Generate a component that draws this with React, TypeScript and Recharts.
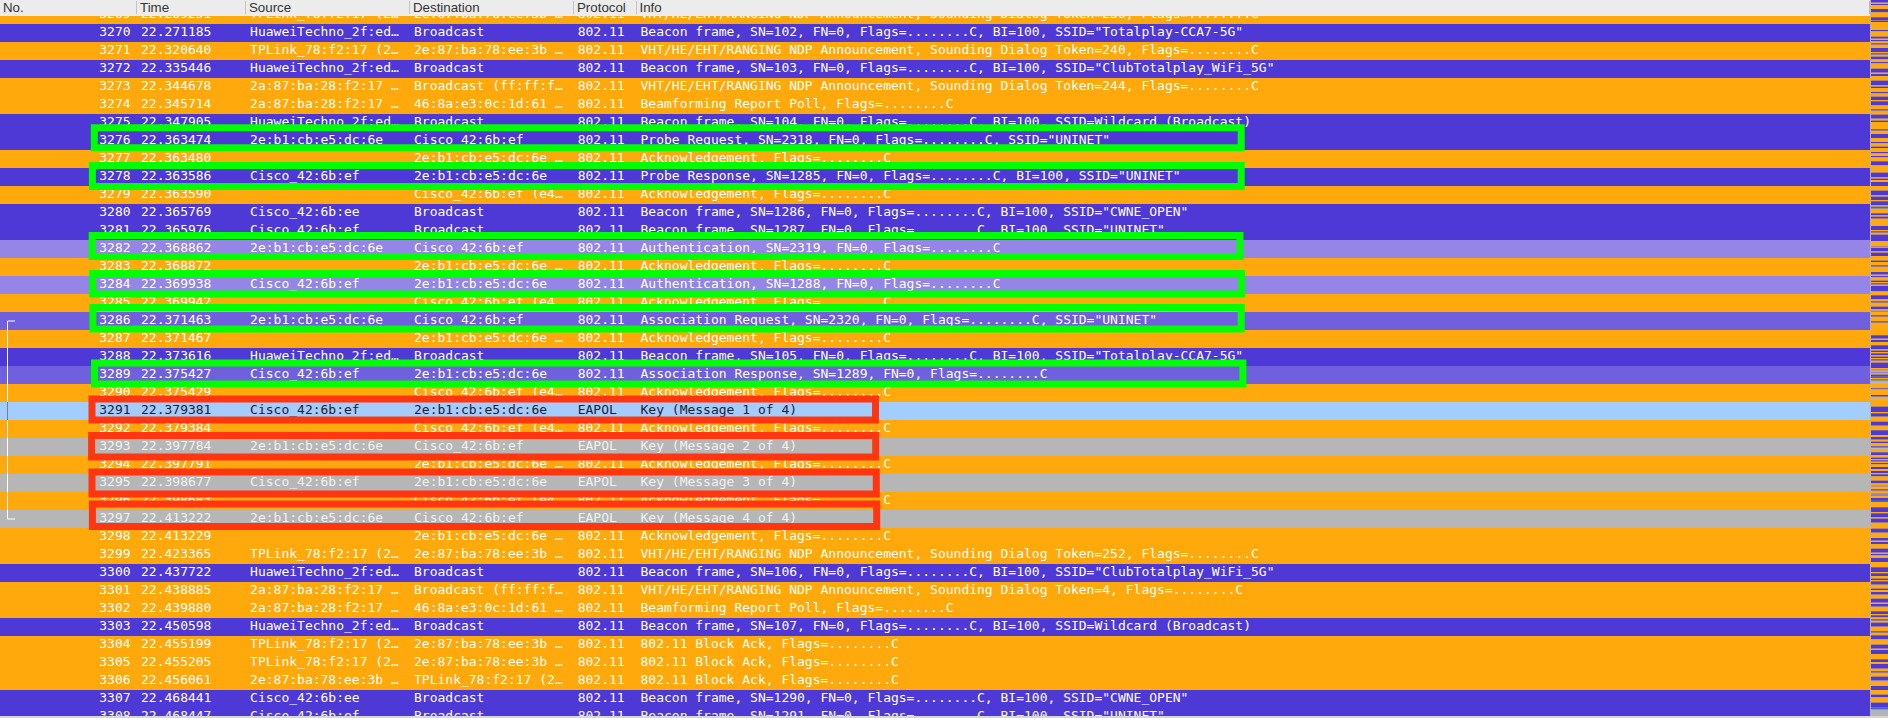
import { BarChart, Bar, XAxis, YAxis, ReferenceArea } from "recharts"

const WIDTH = 1888
const HEIGHT = 718
const LIST_WIDTH = 1870

const FONT_MONO = '"DejaVu Sans Mono", monospace'
const FONT_UI = '"Liberation Sans", Arial, sans-serif'

const HUAWEI = "HuaweiTechno_2f:ed…"
const TPLINK = "TPLink_78:f2:17 (2…"
const TPLINK_DST = "2e:87:ba:78:ee:3b …"
const NDP_SRC = "2a:87:ba:28:f2:17 …"
const NDP_BCAST = "Broadcast (ff:ff:f…"
const NDP_DST = "46:8a:e3:0c:1d:61 …"
const CLIENT = "2e:b1:cb:e5:dc:6e"
const CLIENT_TRUNC = "2e:b1:cb:e5:dc:6e …"
const AP = "Cisco_42:6b:ef"
const AP_TRUNC = "Cisco_42:6b:ef (e4…"
const AP_OPEN = "Cisco_42:6b:ee"
const ACK = "Acknowledgement, Flags=........C"
const BLOCK_ACK = "802.11 Block Ack, Flags=........C"
const POLL = "Beamforming Report Poll, Flags=........C"
const FLAGS = "Flags=........C"

const columnLabels = ["No.", "Time", "Source", "Destination", "Protocol", "Info"]

const packetNumbers = [
  3269, 3270, 3271, 3272, 3273, 3274, 3275, 3276, 3277, 3278, 3279, 3280, 3281, 3282,
  3283, 3284, 3285, 3286, 3287, 3288, 3289, 3290, 3291, 3292, 3293, 3294, 3295, 3296,
  3297, 3298, 3299, 3300, 3301, 3302, 3303, 3304, 3305, 3306, 3307, 3308,
]

const times = [
  "22.269251", "22.271185", "22.320640", "22.335446", "22.344678", "22.345714", "22.347905",
  "22.363474", "22.363480", "22.363586", "22.363590", "22.365769", "22.365976", "22.368862",
  "22.368872", "22.369938", "22.369942", "22.371463", "22.371467", "22.373616", "22.375427",
  "22.375429", "22.379381", "22.379384", "22.397784", "22.397791", "22.398677", "22.398683",
  "22.413222", "22.413229", "22.423365", "22.437722", "22.438885", "22.439880", "22.450598",
  "22.455199", "22.455205", "22.456061", "22.468441", "22.468447",
]

const sources = [
  TPLINK, HUAWEI, TPLINK, HUAWEI, NDP_SRC, NDP_SRC, HUAWEI,
  CLIENT, "", AP, "", AP_OPEN, AP, CLIENT,
  "", AP, "", CLIENT, "", HUAWEI, AP,
  "", AP, "", CLIENT, "", AP, "",
  CLIENT, "", TPLINK, HUAWEI, NDP_SRC, NDP_SRC, HUAWEI,
  TPLINK, TPLINK, TPLINK_DST, AP_OPEN, AP,
]

const destinations = [
  TPLINK_DST, "Broadcast", TPLINK_DST, "Broadcast", NDP_BCAST, NDP_DST, "Broadcast",
  AP, CLIENT_TRUNC, CLIENT, AP_TRUNC, "Broadcast", "Broadcast", AP,
  CLIENT_TRUNC, CLIENT, AP_TRUNC, AP, CLIENT_TRUNC, "Broadcast", CLIENT,
  AP_TRUNC, CLIENT, AP_TRUNC, AP, CLIENT_TRUNC, CLIENT, AP_TRUNC,
  AP, CLIENT_TRUNC, TPLINK_DST, "Broadcast", NDP_BCAST, NDP_DST, "Broadcast",
  TPLINK_DST, TPLINK_DST, TPLINK, "Broadcast", "Broadcast",
]

const protocols = packetNumbers.map((no) =>
  [3291, 3293, 3295, 3297].includes(no) ? "EAPOL" : "802.11"
)

const infos = [
  `VHT/HE/EHT/RANGING NDP Announcement, Sounding Dialog Token=236, ${FLAGS}`,
  `Beacon frame, SN=102, FN=0, ${FLAGS}, BI=100, SSID="Totalplay-CCA7-5G"`,
  `VHT/HE/EHT/RANGING NDP Announcement, Sounding Dialog Token=240, ${FLAGS}`,
  `Beacon frame, SN=103, FN=0, ${FLAGS}, BI=100, SSID="ClubTotalplay_WiFi_5G"`,
  `VHT/HE/EHT/RANGING NDP Announcement, Sounding Dialog Token=244, ${FLAGS}`,
  POLL,
  `Beacon frame, SN=104, FN=0, ${FLAGS}, BI=100, SSID=Wildcard (Broadcast)`,
  `Probe Request, SN=2318, FN=0, ${FLAGS}, SSID="UNINET"`,
  ACK,
  `Probe Response, SN=1285, FN=0, ${FLAGS}, BI=100, SSID="UNINET"`,
  ACK,
  `Beacon frame, SN=1286, FN=0, ${FLAGS}, BI=100, SSID="CWNE_OPEN"`,
  `Beacon frame, SN=1287, FN=0, ${FLAGS}, BI=100, SSID="UNINET"`,
  `Authentication, SN=2319, FN=0, ${FLAGS}`,
  ACK,
  `Authentication, SN=1288, FN=0, ${FLAGS}`,
  ACK,
  `Association Request, SN=2320, FN=0, ${FLAGS}, SSID="UNINET"`,
  ACK,
  `Beacon frame, SN=105, FN=0, ${FLAGS}, BI=100, SSID="Totalplay-CCA7-5G"`,
  `Association Response, SN=1289, FN=0, ${FLAGS}`,
  ACK,
  "Key (Message 1 of 4)",
  ACK,
  "Key (Message 2 of 4)",
  ACK,
  "Key (Message 3 of 4)",
  ACK,
  "Key (Message 4 of 4)",
  ACK,
  `VHT/HE/EHT/RANGING NDP Announcement, Sounding Dialog Token=252, ${FLAGS}`,
  `Beacon frame, SN=106, FN=0, ${FLAGS}, BI=100, SSID="ClubTotalplay_WiFi_5G"`,
  `VHT/HE/EHT/RANGING NDP Announcement, Sounding Dialog Token=4, ${FLAGS}`,
  POLL,
  `Beacon frame, SN=107, FN=0, ${FLAGS}, BI=100, SSID=Wildcard (Broadcast)`,
  BLOCK_ACK,
  BLOCK_ACK,
  BLOCK_ACK,
  `Beacon frame, SN=1290, FN=0, ${FLAGS}, BI=100, SSID="CWNE_OPEN"`,
  `Beacon frame, SN=1291, FN=0, ${FLAGS}, BI=100, SSID="UNINET"`,
]

// colouring rule of each row: o = control, p = mgmt, a = auth, s = assoc, k = first key, g = other keys
const rowKinds = [
  "o", "p", "o", "p", "o", "o", "p", "p", "o", "p", "o", "p", "p", "a",
  "o", "a", "o", "s", "o", "p", "s", "o", "k", "o", "g", "o", "g", "o",
  "g", "o", "o", "p", "o", "o", "p", "o", "o", "o", "p", "p",
]

// conversation bracket in the left gutter
const BRACKET_FIRST = 3286
const BRACKET_LAST = 3297

const GREEN = "#00ff00"
const RED = "#ff360f"

// annotation boxes drawn by hand on the screenshot: row, x range, top and bottom offset from the row
const greenBoxes = [
  [3276, 94.3, 1241.2, -4.25, -2.25],
  [3278, 92.4, 1241.2, -2.5, 0.5],
  [3282, 92.2, 1240, -4.5, -1.5],
  [3284, 92.7, 1241.6, -2.5, 0],
  [3286, 92.9, 1241.2, -4.5, -1],
  [3289, 94.5, 1242.9, -3, 0],
]
const redBoxes = [
  [3291, 92, 875.5, -3, 0],
  [3293, 91.6, 875.7, -2.5, 1],
  [3295, 92, 876.3, -2, 2],
  [3297, 92.4, 876.7, -6, -1.5],
]

// packet map on the right edge, top to bottom, kind + length in thirds of a pixel
const minimapStripes = [
  "p8", "o4", "p3", "o12", "p10", "o15", "p10", "o1", "p3", "o24", "p4", "o16", "p6", "o4", "p4", "o6",
  "p4", "o10", "p12", "o4", "p4", "o6", "p8", "o8", "p4", "o16", "p12", "o4", "p6", "o14", "p14", "o4",
  "p4", "o12", "p4", "o10", "p10", "o4", "p12", "o12", "p4", "o12", "p12", "o6", "p4", "o22", "p4", "o10",
  "p12", "o12", "p4", "o10", "p4", "o12", "p4", "o8", "p4", "o12", "p12", "o22", "p14", "o4", "p4", "o6",
  "p12", "o14", "p14", "o4", "p10", "o4", "p12", "o4", "b6", "o14", "p6", "o4", "p6", "o22", "p12", "o4",
  "p4", "o6", "p19", "o17", "p2", "o2", "p10", "o4", "p10", "o14", "p4", "o10", "p4", "o16", "p8", "o4",
  "p4", "o10", "p4", "o4", "p4", "o4", "p16", "o12", "p12", "o6", "p4", "o12", "p8", "o4", "l4", "o10",
  "p4", "o14", "p4", "o38", "p10", "o4", "p6", "o10", "p12", "o4", "p4", "o4", "p6", "o4", "p4", "o4",
  "p4", "o6", "p16", "o4", "l4", "o4", "l4", "o4", "p6", "b4", "o4", "b4", "o4", "g6", "o13", "p3",
  "o17", "p5", "o6", "g4", "o20", "p16", "o4", "p10", "o15", "p12", "o14", "p14", "o6", "p8", "o6", "p4",
  "o10", "p4", "g4", "o10", "p8", "o8", "p4", "o4", "p4", "o4", "p4", "o8", "p6", "o6", "p6", "o4",
  "p6", "o13", "p8", "o6", "l4", "o8", "p4", "o8", "l8", "o6", "p6", "b6", "o16", "p14", "o4", "p12",
  "o4", "p12", "o18", "p12", "o16", "p8", "o4", "p6", "o14", "p12", "o4", "p4", "o8", "p12", "o16", "p14",
  "o4", "p8", "o8", "p4", "o4", "p10", "o12", "p4", "o6", "p8", "o12", "p12", "o4", "p8", "o14", "p8",
  "o4", "p6", "o6", "p4", "o6", "p12", "o14", "p4", "o8", "p12", "o16", "p12", "o4", "p12", "o16", "p8",
  "o6", "p14", "o8", "p4", "o12", "p10", "l4", "o14", "p12", "o14", "p8", "o16", "p14", "b6",
]

const KIND_FILL = {
  o: "#ffa90c",
  p: "#4f39d6",
  a: "#9485e6",
  s: "#7160dd",
  k: "#a3ccff",
  g: "#b6b6b6",
  b: "#3f62d8",
  l: "#8f7fd8",
}

const packets = packetNumbers.map((no, i) => ({
  no,
  span: LIST_WIDTH,
  time: times[i],
  source: sources[i],
  destination: destinations[i],
  protocol: protocols[i],
  info: infos[i],
  kind: rowKinds[i],
}))

const stripes = minimapStripes.map((token, i) => ({
  key: `s${i}`,
  kind: token[0],
  length: Number(token.slice(1)) / 3,
}))
const minimapRow = Object.fromEntries([["name", "map"], ...stripes.map((s) => [s.key, s.length])])

function Cell({ x, y, fill, children }: any) {
  return (
    <text x={x} y={y} fill={fill} fontFamily={FONT_MONO} fontSize={13} xmlSpace="preserve">
      {children}
    </text>
  )
}

function PacketRow({ x, y, width, height, payload }: any) {
  const { no, kind } = payload
  const ink = kind === "k" ? "#1c2230" : kind === "g" ? "#f1f1f1" : "#fff"
  const mid = y + height / 2
  const base = y + 12
  return (
    <g>
      <rect x={x} y={y} width={width} height={height} fill={KIND_FILL[kind]} />
      {no >= BRACKET_FIRST && no <= BRACKET_LAST && (
        <path
          d={
            no === BRACKET_FIRST
              ? `M15 ${mid}H7.5V${y + height}`
              : no === BRACKET_LAST
                ? `M7.5 ${y}V${mid}H15`
                : `M7.5 ${y}V${y + height}`
          }
          fill="none"
          stroke={kind === "k" ? "#77808c" : "#fff"}
        />
      )}
      <Cell x={99.3} y={base} fill={ink}>{no}</Cell>
      <Cell x={141} y={base} fill={ink}>{payload.time}</Cell>
      <Cell x={250.1} y={base} fill={ink}>{payload.source}</Cell>
      <Cell x={414} y={base} fill={ink}>{payload.destination}</Cell>
      <Cell x={577.7} y={base} fill={ink}>{payload.protocol}</Cell>
      <Cell x={640.5} y={base} fill={ink}>{payload.info}</Cell>
    </g>
  )
}

function boxShape(color: string, top: number, bottom: number) {
  return ({ x, y, width, height }: any) => (
    <rect
      x={x}
      y={y + top}
      width={width}
      height={height - top + bottom}
      fill="none"
      stroke={color}
      strokeWidth={7}
    />
  )
}

function renderBoxes(boxes: number[][], color: string) {
  return boxes.map(([row, x1, x2, top, bottom]) => (
    <ReferenceArea
      key={row}
      x1={x1}
      x2={x2}
      y1={row}
      y2={row}
      zIndex={1500}
      ifOverflow="visible"
      shape={boxShape(color, top, bottom)}
    />
  ))
}

const headerStops = [3, 140, 249, 413, 577, 639.5]
const headerRules = [136, 245, 408.5, 572.5, 635.5]

export default function App() {
  return (
    <div
      style={{
        position: "absolute",
        left: 0,
        top: 0,
        width: WIDTH,
        height: HEIGHT,
        overflow: "hidden",
        background: "#b4b4b4",
      }}
    >
      <div style={{ position: "absolute", left: 0, top: 0 }}>
        <BarChart
          width={LIST_WIDTH}
          height={HEIGHT}
          data={packets}
          layout="vertical"
          barCategoryGap={0}
          margin={{ top: 6, right: 0, bottom: -8, left: 0 }}
        >
          <XAxis type="number" domain={[0, LIST_WIDTH]} hide />
          <YAxis type="category" dataKey="no" hide />
          <Bar dataKey="span" shape={PacketRow} isAnimationActive={false} />
          {renderBoxes(greenBoxes, GREEN)}
          {renderBoxes(redBoxes, RED)}
        </BarChart>
      </div>

      <div style={{ position: "absolute", left: 1871, top: 0 }}>
        <BarChart
          width={17}
          height={716}
          data={[minimapRow]}
          barCategoryGap={0}
          margin={{ top: 0, right: 0, bottom: 0, left: 0 }}
        >
          <XAxis dataKey="name" hide />
          <YAxis type="number" domain={[0, 716]} reversed allowDataOverflow hide />
          {stripes.map((s) => (
            <Bar
              key={s.key}
              dataKey={s.key}
              stackId="map"
              fill={KIND_FILL[s.kind]}
              isAnimationActive={false}
            />
          ))}
        </BarChart>
      </div>

      {/* column header of the packet list */}
      <div
        style={{
          position: "absolute",
          left: 0,
          top: 0,
          width: LIST_WIDTH,
          height: 16,
          background: "#ececec",
          fontFamily: FONT_UI,
          fontSize: 13.3,
          color: "#333",
        }}
      >
        {columnLabels.map((label, i) => (
          <span
            key={label}
            style={{ position: "absolute", left: headerStops[i], top: 1, lineHeight: "14px" }}
          >
            {label}
          </span>
        ))}
        {headerRules.map((x) => (
          <div
            key={x}
            style={{ position: "absolute", left: x, top: 1, width: 1, height: 13, background: "#c4c4c4" }}
          />
        ))}
        <div
          style={{ position: "absolute", left: 1869, top: 1, width: 2, height: 13, background: "#bbb" }}
        />
      </div>
      <div
        style={{ position: "absolute", left: 0, top: 716, width: WIDTH, height: 2, background: "#d6d6d6" }}
      />
    </div>
  )
}
